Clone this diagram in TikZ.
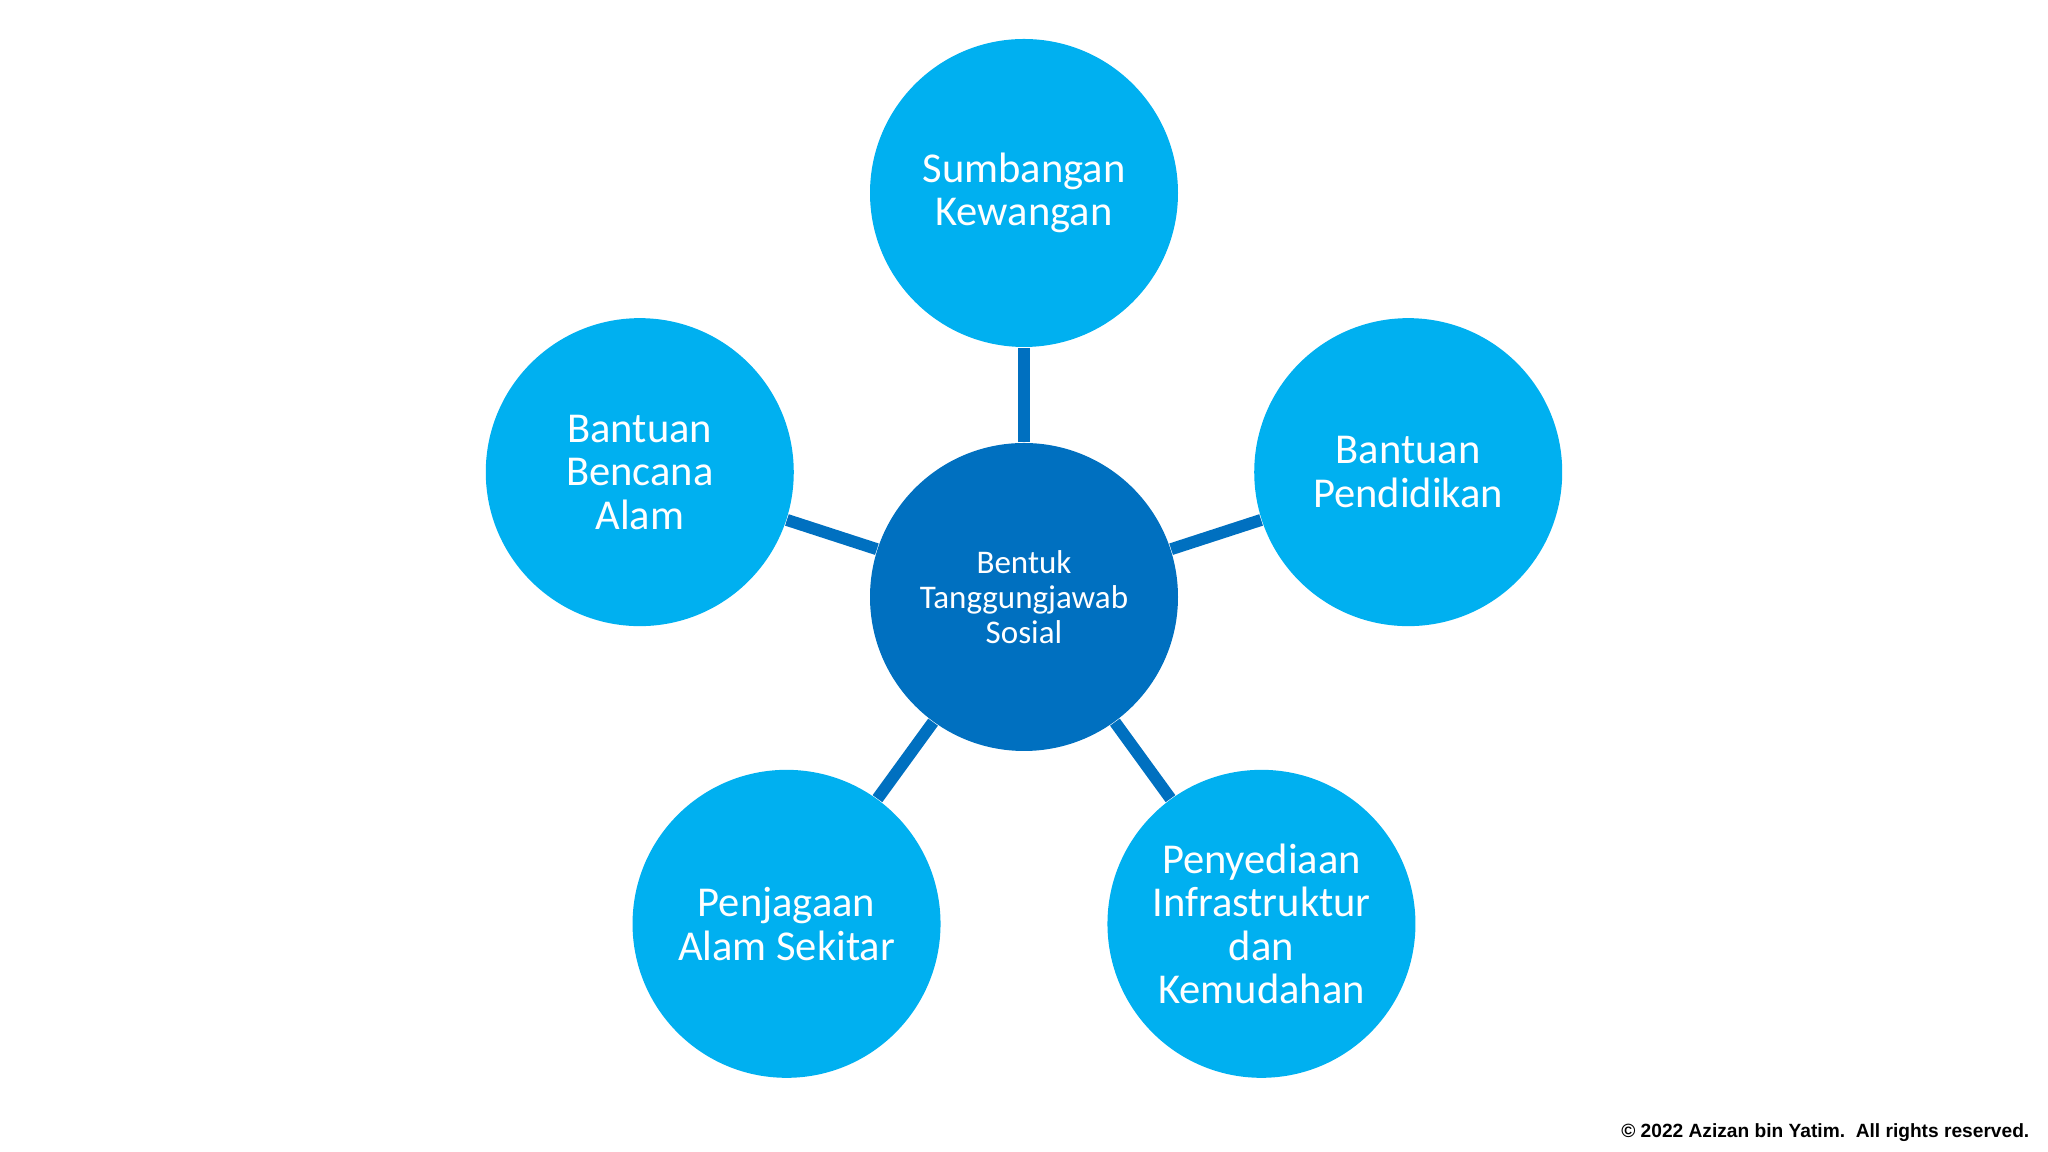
\documentclass[tikz,border=0pt]{standalone}
\usepackage{fontspec}
\usetikzlibrary{calc}
\setmainfont{Carlito}
\newfontfamily\copyfont{Liberation Sans}
\definecolor{lightblue}{HTML}{00B0F0}
\definecolor{darkblue}{HTML}{0070C0}
\begin{document}
\begin{tikzpicture}
\useasboundingbox (0,0) rectangle (20.48,11.52);
\tikzset{
  outer/.style={circle, fill=lightblue, minimum size=3.08cm, inner sep=0pt, text=white, align=center,
    font=\fontsize{12.1pt}{12.4pt}\selectfont},
  inner/.style={circle, fill=darkblue, minimum size=3.08cm, inner sep=0pt, text=white, align=center,
    font=\fontsize{9.4pt}{10pt}\selectfont},
  link/.style={draw=darkblue, line width=0.12cm}
}
\coordinate (c) at (10.24,5.55);
\node[inner] (center) at (c) {Bentuk\\Tanggungjawab\\Sosial};
\node[outer] (top) at ($(c)+(90:4.04)$) {Sumbangan\\Kewangan};
\node[outer] (right) at ($(c)+(18:4.04)$) {Bantuan\\Pendidikan};
\node[outer] (left) at ($(c)+(162:4.04)$) {Bantuan\\Bencana\\Alam};
\node[outer] (bl) at ($(c)+(234:4.04)$) {Penjagaan\\Alam Sekitar};
\node[outer] (br) at ($(c)+(306:4.04)$) {Penyediaan\\Infrastruktur\\dan\\Kemudahan};
\draw[link] (center) -- (top);
\draw[link] (center) -- (right);
\draw[link] (center) -- (left);
\draw[link] (center) -- (bl);
\draw[link] (center) -- (br);
\node[anchor=base east, inner sep=0pt, font=\copyfont\bfseries\fontsize{5.45pt}{6pt}\selectfont] (copy) at (20.30,0.14) {© 2022 Azizan bin Yatim.\ \ All rights reserved.};
\end{tikzpicture}
\end{document}
